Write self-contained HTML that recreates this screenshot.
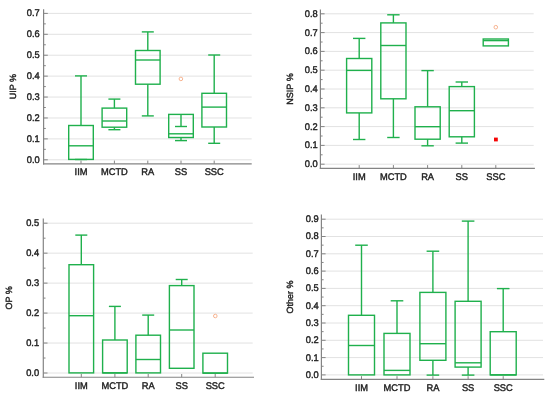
<!DOCTYPE html>
<html><head><meta charset="utf-8"><style>
html,body{margin:0;padding:0;background:#fff;}
body{width:550px;height:398px;overflow:hidden;}
svg{display:block;}
text{font-family:"Liberation Sans",Arial,sans-serif;font-size:9.3px;fill:#222222;stroke:#222222;stroke-width:0.4px;text-rendering:geometricPrecision;}
</style></head><body>
<svg width="550" height="398" viewBox="0 0 550 398">
<rect width="550" height="398" fill="#fff"/>
<line x1="43.6" y1="159.80" x2="251.7" y2="159.80" stroke="#e2e2e2" stroke-width="1"/>
<line x1="43.6" y1="138.89" x2="251.7" y2="138.89" stroke="#e2e2e2" stroke-width="1"/>
<line x1="43.6" y1="117.97" x2="251.7" y2="117.97" stroke="#e2e2e2" stroke-width="1"/>
<line x1="43.6" y1="97.06" x2="251.7" y2="97.06" stroke="#e2e2e2" stroke-width="1"/>
<line x1="43.6" y1="76.14" x2="251.7" y2="76.14" stroke="#e2e2e2" stroke-width="1"/>
<line x1="43.6" y1="55.23" x2="251.7" y2="55.23" stroke="#e2e2e2" stroke-width="1"/>
<line x1="43.6" y1="34.31" x2="251.7" y2="34.31" stroke="#e2e2e2" stroke-width="1"/>
<line x1="43.6" y1="13.40" x2="251.7" y2="13.40" stroke="#e2e2e2" stroke-width="1"/>
<line x1="81.0" y1="75.90" x2="81.0" y2="125.50" stroke="#1fb04c" stroke-width="1.4"/>
<line x1="75.0" y1="75.90" x2="87.0" y2="75.90" stroke="#1fb04c" stroke-width="1.4"/>
<line x1="81.0" y1="159.40" x2="81.0" y2="159.50" stroke="#1fb04c" stroke-width="1.4"/>
<line x1="75.0" y1="159.50" x2="87.0" y2="159.50" stroke="#1fb04c" stroke-width="1.4"/>
<rect x="68.7" y="125.50" width="24.6" height="33.90" fill="none" stroke="#1fb04c" stroke-width="1.4"/>
<line x1="68.7" y1="145.80" x2="93.3" y2="145.80" stroke="#1fb04c" stroke-width="1.4"/>
<line x1="114.4" y1="99.10" x2="114.4" y2="108.10" stroke="#1fb04c" stroke-width="1.4"/>
<line x1="108.4" y1="99.10" x2="120.4" y2="99.10" stroke="#1fb04c" stroke-width="1.4"/>
<line x1="114.4" y1="127.20" x2="114.4" y2="129.70" stroke="#1fb04c" stroke-width="1.4"/>
<line x1="108.4" y1="129.70" x2="120.4" y2="129.70" stroke="#1fb04c" stroke-width="1.4"/>
<rect x="102.1" y="108.10" width="24.6" height="19.10" fill="none" stroke="#1fb04c" stroke-width="1.4"/>
<line x1="102.1" y1="121.00" x2="126.7" y2="121.00" stroke="#1fb04c" stroke-width="1.4"/>
<line x1="147.8" y1="31.90" x2="147.8" y2="50.50" stroke="#1fb04c" stroke-width="1.4"/>
<line x1="141.8" y1="31.90" x2="153.8" y2="31.90" stroke="#1fb04c" stroke-width="1.4"/>
<line x1="147.8" y1="84.20" x2="147.8" y2="115.90" stroke="#1fb04c" stroke-width="1.4"/>
<line x1="141.8" y1="115.90" x2="153.8" y2="115.90" stroke="#1fb04c" stroke-width="1.4"/>
<rect x="135.5" y="50.50" width="24.6" height="33.70" fill="none" stroke="#1fb04c" stroke-width="1.4"/>
<line x1="135.5" y1="60.00" x2="160.1" y2="60.00" stroke="#1fb04c" stroke-width="1.4"/>
<line x1="181.0" y1="137.50" x2="181.0" y2="140.60" stroke="#1fb04c" stroke-width="1.4"/>
<line x1="175.0" y1="140.60" x2="187.0" y2="140.60" stroke="#1fb04c" stroke-width="1.4"/>
<rect x="168.7" y="114.40" width="24.6" height="23.10" fill="none" stroke="#1fb04c" stroke-width="1.4"/>
<line x1="168.7" y1="133.80" x2="193.3" y2="133.80" stroke="#1fb04c" stroke-width="1.4"/>
<line x1="214.2" y1="55.00" x2="214.2" y2="93.30" stroke="#1fb04c" stroke-width="1.4"/>
<line x1="208.2" y1="55.00" x2="220.2" y2="55.00" stroke="#1fb04c" stroke-width="1.4"/>
<line x1="214.2" y1="127.00" x2="214.2" y2="143.30" stroke="#1fb04c" stroke-width="1.4"/>
<line x1="208.2" y1="143.30" x2="220.2" y2="143.30" stroke="#1fb04c" stroke-width="1.4"/>
<rect x="201.9" y="93.30" width="24.6" height="33.70" fill="none" stroke="#1fb04c" stroke-width="1.4"/>
<line x1="201.9" y1="107.10" x2="226.5" y2="107.10" stroke="#1fb04c" stroke-width="1.4"/>
<line x1="181.0" y1="114.40" x2="181.0" y2="126.50" stroke="#1fb04c" stroke-width="1.4"/>
<line x1="175.0" y1="126.50" x2="187.0" y2="126.50" stroke="#1fb04c" stroke-width="1.4"/>
<circle cx="180.9" cy="78.9" r="1.8" fill="none" stroke="#f6ac84" stroke-width="0.9"/>
<line x1="43.6" y1="9.2" x2="43.6" y2="164.4" stroke="#848484" stroke-width="1.2"/>
<line x1="43.0" y1="163.8" x2="251.7" y2="163.8" stroke="#848484" stroke-width="1.15"/>
<line x1="43.6" y1="159.80" x2="47.8" y2="159.80" stroke="#848484" stroke-width="1"/>
<text transform="translate(39.7,162.70) scale(1,1.04)" text-anchor="end">0.0</text>
<line x1="43.6" y1="149.34" x2="45.8" y2="149.34" stroke="#848484" stroke-width="1"/>
<line x1="43.6" y1="138.89" x2="47.8" y2="138.89" stroke="#848484" stroke-width="1"/>
<text transform="translate(39.7,141.79) scale(1,1.04)" text-anchor="end">0.1</text>
<line x1="43.6" y1="128.43" x2="45.8" y2="128.43" stroke="#848484" stroke-width="1"/>
<line x1="43.6" y1="117.97" x2="47.8" y2="117.97" stroke="#848484" stroke-width="1"/>
<text transform="translate(39.7,120.87) scale(1,1.04)" text-anchor="end">0.2</text>
<line x1="43.6" y1="107.51" x2="45.8" y2="107.51" stroke="#848484" stroke-width="1"/>
<line x1="43.6" y1="97.06" x2="47.8" y2="97.06" stroke="#848484" stroke-width="1"/>
<text transform="translate(39.7,99.96) scale(1,1.04)" text-anchor="end">0.3</text>
<line x1="43.6" y1="86.60" x2="45.8" y2="86.60" stroke="#848484" stroke-width="1"/>
<line x1="43.6" y1="76.14" x2="47.8" y2="76.14" stroke="#848484" stroke-width="1"/>
<text transform="translate(39.7,79.04) scale(1,1.04)" text-anchor="end">0.4</text>
<line x1="43.6" y1="65.69" x2="45.8" y2="65.69" stroke="#848484" stroke-width="1"/>
<line x1="43.6" y1="55.23" x2="47.8" y2="55.23" stroke="#848484" stroke-width="1"/>
<text transform="translate(39.7,58.13) scale(1,1.04)" text-anchor="end">0.5</text>
<line x1="43.6" y1="44.77" x2="45.8" y2="44.77" stroke="#848484" stroke-width="1"/>
<line x1="43.6" y1="34.31" x2="47.8" y2="34.31" stroke="#848484" stroke-width="1"/>
<text transform="translate(39.7,37.21) scale(1,1.04)" text-anchor="end">0.6</text>
<line x1="43.6" y1="23.86" x2="45.8" y2="23.86" stroke="#848484" stroke-width="1"/>
<line x1="43.6" y1="13.40" x2="47.8" y2="13.40" stroke="#848484" stroke-width="1"/>
<text transform="translate(39.7,16.30) scale(1,1.04)" text-anchor="end">0.7</text>
<line x1="81.0" y1="163.8" x2="81.0" y2="160.6" stroke="#848484" stroke-width="1"/>
<text transform="translate(81.0,174.8) scale(1,1.04)" text-anchor="middle" style="font-size:9.3px">IIM</text>
<line x1="114.4" y1="163.8" x2="114.4" y2="160.6" stroke="#848484" stroke-width="1"/>
<text transform="translate(114.4,174.8) scale(1,1.04)" text-anchor="middle" style="font-size:9.3px">MCTD</text>
<line x1="147.8" y1="163.8" x2="147.8" y2="160.6" stroke="#848484" stroke-width="1"/>
<text transform="translate(147.8,174.8) scale(1,1.04)" text-anchor="middle" style="font-size:9.3px">RA</text>
<line x1="181.0" y1="163.8" x2="181.0" y2="160.6" stroke="#848484" stroke-width="1"/>
<text transform="translate(181.0,174.8) scale(1,1.04)" text-anchor="middle" style="font-size:9.3px">SS</text>
<line x1="214.2" y1="163.8" x2="214.2" y2="160.6" stroke="#848484" stroke-width="1"/>
<text transform="translate(214.2,174.8) scale(1,1.04)" text-anchor="middle" style="font-size:9.3px">SSC</text>
<text x="0" y="0" text-anchor="middle" style="font-size:9px" transform="translate(16.4,86.7) rotate(-90)">UIP %</text>
<line x1="320.4" y1="164.20" x2="533.7" y2="164.20" stroke="#e2e2e2" stroke-width="1"/>
<line x1="320.4" y1="145.40" x2="533.7" y2="145.40" stroke="#e2e2e2" stroke-width="1"/>
<line x1="320.4" y1="126.60" x2="533.7" y2="126.60" stroke="#e2e2e2" stroke-width="1"/>
<line x1="320.4" y1="107.80" x2="533.7" y2="107.80" stroke="#e2e2e2" stroke-width="1"/>
<line x1="320.4" y1="89.00" x2="533.7" y2="89.00" stroke="#e2e2e2" stroke-width="1"/>
<line x1="320.4" y1="70.20" x2="533.7" y2="70.20" stroke="#e2e2e2" stroke-width="1"/>
<line x1="320.4" y1="51.40" x2="533.7" y2="51.40" stroke="#e2e2e2" stroke-width="1"/>
<line x1="320.4" y1="32.60" x2="533.7" y2="32.60" stroke="#e2e2e2" stroke-width="1"/>
<line x1="320.4" y1="13.80" x2="533.7" y2="13.80" stroke="#e2e2e2" stroke-width="1"/>
<line x1="359.2" y1="38.40" x2="359.2" y2="58.50" stroke="#1fb04c" stroke-width="1.4"/>
<line x1="353.0" y1="38.40" x2="365.4" y2="38.40" stroke="#1fb04c" stroke-width="1.4"/>
<line x1="359.2" y1="112.90" x2="359.2" y2="139.50" stroke="#1fb04c" stroke-width="1.4"/>
<line x1="353.0" y1="139.50" x2="365.4" y2="139.50" stroke="#1fb04c" stroke-width="1.4"/>
<rect x="346.6" y="58.50" width="25.2" height="54.40" fill="none" stroke="#1fb04c" stroke-width="1.4"/>
<line x1="346.6" y1="70.40" x2="371.8" y2="70.40" stroke="#1fb04c" stroke-width="1.4"/>
<line x1="393.4" y1="14.80" x2="393.4" y2="22.90" stroke="#1fb04c" stroke-width="1.4"/>
<line x1="387.2" y1="14.80" x2="399.6" y2="14.80" stroke="#1fb04c" stroke-width="1.4"/>
<line x1="393.4" y1="98.80" x2="393.4" y2="137.50" stroke="#1fb04c" stroke-width="1.4"/>
<line x1="387.2" y1="137.50" x2="399.6" y2="137.50" stroke="#1fb04c" stroke-width="1.4"/>
<rect x="380.8" y="22.90" width="25.2" height="75.90" fill="none" stroke="#1fb04c" stroke-width="1.4"/>
<line x1="380.8" y1="45.50" x2="406.0" y2="45.50" stroke="#1fb04c" stroke-width="1.4"/>
<line x1="427.6" y1="70.60" x2="427.6" y2="106.80" stroke="#1fb04c" stroke-width="1.4"/>
<line x1="421.4" y1="70.60" x2="433.8" y2="70.60" stroke="#1fb04c" stroke-width="1.4"/>
<line x1="427.6" y1="139.20" x2="427.6" y2="145.80" stroke="#1fb04c" stroke-width="1.4"/>
<line x1="421.4" y1="145.80" x2="433.8" y2="145.80" stroke="#1fb04c" stroke-width="1.4"/>
<rect x="415.0" y="106.80" width="25.2" height="32.40" fill="none" stroke="#1fb04c" stroke-width="1.4"/>
<line x1="415.0" y1="126.70" x2="440.2" y2="126.70" stroke="#1fb04c" stroke-width="1.4"/>
<line x1="461.8" y1="82.00" x2="461.8" y2="86.60" stroke="#1fb04c" stroke-width="1.4"/>
<line x1="455.6" y1="82.00" x2="468.0" y2="82.00" stroke="#1fb04c" stroke-width="1.4"/>
<line x1="461.8" y1="136.80" x2="461.8" y2="143.10" stroke="#1fb04c" stroke-width="1.4"/>
<line x1="455.6" y1="143.10" x2="468.0" y2="143.10" stroke="#1fb04c" stroke-width="1.4"/>
<rect x="449.2" y="86.60" width="25.2" height="50.20" fill="none" stroke="#1fb04c" stroke-width="1.4"/>
<line x1="449.2" y1="110.70" x2="474.4" y2="110.70" stroke="#1fb04c" stroke-width="1.4"/>
<rect x="483.2" y="39.00" width="25.2" height="6.90" fill="none" stroke="#1fb04c" stroke-width="1.4"/>
<line x1="483.2" y1="40.60" x2="508.4" y2="40.60" stroke="#1fb04c" stroke-width="1.4"/>
<circle cx="495.8" cy="27.2" r="1.8" fill="none" stroke="#f6ac84" stroke-width="0.9"/>
<rect x="494.0" y="137.6" width="3.8" height="3.8" fill="#f50505"/>
<line x1="320.4" y1="9.4" x2="320.4" y2="168.9" stroke="#848484" stroke-width="1.2"/>
<line x1="319.8" y1="168.3" x2="534.9" y2="168.3" stroke="#848484" stroke-width="1.15"/>
<line x1="320.4" y1="164.20" x2="324.6" y2="164.20" stroke="#848484" stroke-width="1"/>
<text transform="translate(317.7,167.10) scale(1,1.04)" text-anchor="end">0.0</text>
<line x1="320.4" y1="154.80" x2="322.6" y2="154.80" stroke="#848484" stroke-width="1"/>
<line x1="320.4" y1="145.40" x2="324.6" y2="145.40" stroke="#848484" stroke-width="1"/>
<text transform="translate(317.7,148.30) scale(1,1.04)" text-anchor="end">0.1</text>
<line x1="320.4" y1="136.00" x2="322.6" y2="136.00" stroke="#848484" stroke-width="1"/>
<line x1="320.4" y1="126.60" x2="324.6" y2="126.60" stroke="#848484" stroke-width="1"/>
<text transform="translate(317.7,129.50) scale(1,1.04)" text-anchor="end">0.2</text>
<line x1="320.4" y1="117.20" x2="322.6" y2="117.20" stroke="#848484" stroke-width="1"/>
<line x1="320.4" y1="107.80" x2="324.6" y2="107.80" stroke="#848484" stroke-width="1"/>
<text transform="translate(317.7,110.70) scale(1,1.04)" text-anchor="end">0.3</text>
<line x1="320.4" y1="98.40" x2="322.6" y2="98.40" stroke="#848484" stroke-width="1"/>
<line x1="320.4" y1="89.00" x2="324.6" y2="89.00" stroke="#848484" stroke-width="1"/>
<text transform="translate(317.7,91.90) scale(1,1.04)" text-anchor="end">0.4</text>
<line x1="320.4" y1="79.60" x2="322.6" y2="79.60" stroke="#848484" stroke-width="1"/>
<line x1="320.4" y1="70.20" x2="324.6" y2="70.20" stroke="#848484" stroke-width="1"/>
<text transform="translate(317.7,73.10) scale(1,1.04)" text-anchor="end">0.5</text>
<line x1="320.4" y1="60.80" x2="322.6" y2="60.80" stroke="#848484" stroke-width="1"/>
<line x1="320.4" y1="51.40" x2="324.6" y2="51.40" stroke="#848484" stroke-width="1"/>
<text transform="translate(317.7,54.30) scale(1,1.04)" text-anchor="end">0.6</text>
<line x1="320.4" y1="42.00" x2="322.6" y2="42.00" stroke="#848484" stroke-width="1"/>
<line x1="320.4" y1="32.60" x2="324.6" y2="32.60" stroke="#848484" stroke-width="1"/>
<text transform="translate(317.7,35.50) scale(1,1.04)" text-anchor="end">0.7</text>
<line x1="320.4" y1="23.20" x2="322.6" y2="23.20" stroke="#848484" stroke-width="1"/>
<line x1="320.4" y1="13.80" x2="324.6" y2="13.80" stroke="#848484" stroke-width="1"/>
<text transform="translate(317.7,16.70) scale(1,1.04)" text-anchor="end">0.8</text>
<line x1="359.2" y1="168.3" x2="359.2" y2="165.1" stroke="#848484" stroke-width="1"/>
<text transform="translate(359.2,180.0) scale(1,1.04)" text-anchor="middle" style="font-size:9.3px">IIM</text>
<line x1="393.4" y1="168.3" x2="393.4" y2="165.1" stroke="#848484" stroke-width="1"/>
<text transform="translate(393.4,180.0) scale(1,1.04)" text-anchor="middle" style="font-size:9.3px">MCTD</text>
<line x1="427.6" y1="168.3" x2="427.6" y2="165.1" stroke="#848484" stroke-width="1"/>
<text transform="translate(427.6,180.0) scale(1,1.04)" text-anchor="middle" style="font-size:9.3px">RA</text>
<line x1="461.8" y1="168.3" x2="461.8" y2="165.1" stroke="#848484" stroke-width="1"/>
<text transform="translate(461.8,180.0) scale(1,1.04)" text-anchor="middle" style="font-size:9.3px">SS</text>
<line x1="495.8" y1="168.3" x2="495.8" y2="165.1" stroke="#848484" stroke-width="1"/>
<text transform="translate(495.8,180.0) scale(1,1.04)" text-anchor="middle" style="font-size:9.3px">SSC</text>
<text x="0" y="0" text-anchor="middle" style="font-size:9px" transform="translate(293.2,89.0) rotate(-90)">NSIP %</text>
<line x1="43.3" y1="373.00" x2="252.7" y2="373.00" stroke="#e2e2e2" stroke-width="1"/>
<line x1="43.3" y1="343.04" x2="252.7" y2="343.04" stroke="#e2e2e2" stroke-width="1"/>
<line x1="43.3" y1="313.08" x2="252.7" y2="313.08" stroke="#e2e2e2" stroke-width="1"/>
<line x1="43.3" y1="283.12" x2="252.7" y2="283.12" stroke="#e2e2e2" stroke-width="1"/>
<line x1="43.3" y1="253.16" x2="252.7" y2="253.16" stroke="#e2e2e2" stroke-width="1"/>
<line x1="43.3" y1="223.20" x2="252.7" y2="223.20" stroke="#e2e2e2" stroke-width="1"/>
<line x1="81.3" y1="235.10" x2="81.3" y2="264.70" stroke="#1fb04c" stroke-width="1.4"/>
<line x1="75.3" y1="235.10" x2="87.3" y2="235.10" stroke="#1fb04c" stroke-width="1.4"/>
<rect x="69.0" y="264.70" width="24.6" height="108.20" fill="none" stroke="#1fb04c" stroke-width="1.4"/>
<line x1="69.0" y1="315.70" x2="93.6" y2="315.70" stroke="#1fb04c" stroke-width="1.4"/>
<line x1="114.9" y1="306.40" x2="114.9" y2="340.00" stroke="#1fb04c" stroke-width="1.4"/>
<line x1="108.9" y1="306.40" x2="120.9" y2="306.40" stroke="#1fb04c" stroke-width="1.4"/>
<rect x="102.6" y="340.00" width="24.6" height="32.90" fill="none" stroke="#1fb04c" stroke-width="1.4"/>
<line x1="102.6" y1="372.90" x2="127.2" y2="372.90" stroke="#1fb04c" stroke-width="1.4"/>
<line x1="148.2" y1="315.10" x2="148.2" y2="335.20" stroke="#1fb04c" stroke-width="1.4"/>
<line x1="142.2" y1="315.10" x2="154.2" y2="315.10" stroke="#1fb04c" stroke-width="1.4"/>
<rect x="135.9" y="335.20" width="24.6" height="37.70" fill="none" stroke="#1fb04c" stroke-width="1.4"/>
<line x1="135.9" y1="359.50" x2="160.5" y2="359.50" stroke="#1fb04c" stroke-width="1.4"/>
<line x1="181.7" y1="279.50" x2="181.7" y2="285.60" stroke="#1fb04c" stroke-width="1.4"/>
<line x1="175.7" y1="279.50" x2="187.7" y2="279.50" stroke="#1fb04c" stroke-width="1.4"/>
<rect x="169.4" y="285.60" width="24.6" height="82.70" fill="none" stroke="#1fb04c" stroke-width="1.4"/>
<line x1="169.4" y1="330.00" x2="194.0" y2="330.00" stroke="#1fb04c" stroke-width="1.4"/>
<rect x="202.9" y="353.20" width="24.6" height="19.90" fill="none" stroke="#1fb04c" stroke-width="1.4"/>
<line x1="202.9" y1="373.10" x2="227.5" y2="373.10" stroke="#1fb04c" stroke-width="1.4"/>
<circle cx="215.3" cy="316.0" r="1.8" fill="none" stroke="#f6ac84" stroke-width="0.9"/>
<line x1="43.3" y1="218.6" x2="43.3" y2="377.8" stroke="#848484" stroke-width="1.2"/>
<line x1="42.7" y1="377.2" x2="254.0" y2="377.2" stroke="#848484" stroke-width="1.15"/>
<line x1="43.3" y1="373.00" x2="47.5" y2="373.00" stroke="#848484" stroke-width="1"/>
<text transform="translate(39.1,375.90) scale(1,1.04)" text-anchor="end">0.0</text>
<line x1="43.3" y1="358.02" x2="45.5" y2="358.02" stroke="#848484" stroke-width="1"/>
<line x1="43.3" y1="343.04" x2="47.5" y2="343.04" stroke="#848484" stroke-width="1"/>
<text transform="translate(39.1,345.94) scale(1,1.04)" text-anchor="end">0.1</text>
<line x1="43.3" y1="328.06" x2="45.5" y2="328.06" stroke="#848484" stroke-width="1"/>
<line x1="43.3" y1="313.08" x2="47.5" y2="313.08" stroke="#848484" stroke-width="1"/>
<text transform="translate(39.1,315.98) scale(1,1.04)" text-anchor="end">0.2</text>
<line x1="43.3" y1="298.10" x2="45.5" y2="298.10" stroke="#848484" stroke-width="1"/>
<line x1="43.3" y1="283.12" x2="47.5" y2="283.12" stroke="#848484" stroke-width="1"/>
<text transform="translate(39.1,286.02) scale(1,1.04)" text-anchor="end">0.3</text>
<line x1="43.3" y1="268.14" x2="45.5" y2="268.14" stroke="#848484" stroke-width="1"/>
<line x1="43.3" y1="253.16" x2="47.5" y2="253.16" stroke="#848484" stroke-width="1"/>
<text transform="translate(39.1,256.06) scale(1,1.04)" text-anchor="end">0.4</text>
<line x1="43.3" y1="238.18" x2="45.5" y2="238.18" stroke="#848484" stroke-width="1"/>
<line x1="43.3" y1="223.20" x2="47.5" y2="223.20" stroke="#848484" stroke-width="1"/>
<text transform="translate(39.1,226.10) scale(1,1.04)" text-anchor="end">0.5</text>
<line x1="81.3" y1="377.2" x2="81.3" y2="374.0" stroke="#848484" stroke-width="1"/>
<text transform="translate(81.3,389.0) scale(1,1.04)" text-anchor="middle" style="font-size:9.3px">IIM</text>
<line x1="114.9" y1="377.2" x2="114.9" y2="374.0" stroke="#848484" stroke-width="1"/>
<text transform="translate(114.9,389.0) scale(1,1.04)" text-anchor="middle" style="font-size:9.3px">MCTD</text>
<line x1="148.2" y1="377.2" x2="148.2" y2="374.0" stroke="#848484" stroke-width="1"/>
<text transform="translate(148.2,389.0) scale(1,1.04)" text-anchor="middle" style="font-size:9.3px">RA</text>
<line x1="181.7" y1="377.2" x2="181.7" y2="374.0" stroke="#848484" stroke-width="1"/>
<text transform="translate(181.7,389.0) scale(1,1.04)" text-anchor="middle" style="font-size:9.3px">SS</text>
<line x1="215.2" y1="377.2" x2="215.2" y2="374.0" stroke="#848484" stroke-width="1"/>
<text transform="translate(215.2,389.0) scale(1,1.04)" text-anchor="middle" style="font-size:9.3px">SSC</text>
<text x="0" y="0" text-anchor="middle" style="font-size:9px" transform="translate(12.2,297.9) rotate(-90)">OP %</text>
<line x1="321.4" y1="374.90" x2="543.0" y2="374.90" stroke="#e2e2e2" stroke-width="1"/>
<line x1="321.4" y1="357.60" x2="543.0" y2="357.60" stroke="#e2e2e2" stroke-width="1"/>
<line x1="321.4" y1="340.30" x2="543.0" y2="340.30" stroke="#e2e2e2" stroke-width="1"/>
<line x1="321.4" y1="323.00" x2="543.0" y2="323.00" stroke="#e2e2e2" stroke-width="1"/>
<line x1="321.4" y1="305.70" x2="543.0" y2="305.70" stroke="#e2e2e2" stroke-width="1"/>
<line x1="321.4" y1="288.40" x2="543.0" y2="288.40" stroke="#e2e2e2" stroke-width="1"/>
<line x1="321.4" y1="271.10" x2="543.0" y2="271.10" stroke="#e2e2e2" stroke-width="1"/>
<line x1="321.4" y1="253.80" x2="543.0" y2="253.80" stroke="#e2e2e2" stroke-width="1"/>
<line x1="321.4" y1="236.50" x2="543.0" y2="236.50" stroke="#e2e2e2" stroke-width="1"/>
<line x1="321.4" y1="219.20" x2="543.0" y2="219.20" stroke="#e2e2e2" stroke-width="1"/>
<line x1="361.5" y1="245.20" x2="361.5" y2="315.30" stroke="#1fb04c" stroke-width="1.4"/>
<line x1="355.2" y1="245.20" x2="367.8" y2="245.20" stroke="#1fb04c" stroke-width="1.4"/>
<rect x="348.5" y="315.30" width="26.0" height="59.60" fill="none" stroke="#1fb04c" stroke-width="1.4"/>
<line x1="348.5" y1="345.50" x2="374.5" y2="345.50" stroke="#1fb04c" stroke-width="1.4"/>
<line x1="397.0" y1="300.80" x2="397.0" y2="333.40" stroke="#1fb04c" stroke-width="1.4"/>
<line x1="390.7" y1="300.80" x2="403.3" y2="300.80" stroke="#1fb04c" stroke-width="1.4"/>
<rect x="384.0" y="333.40" width="26.0" height="41.50" fill="none" stroke="#1fb04c" stroke-width="1.4"/>
<line x1="384.0" y1="370.40" x2="410.0" y2="370.40" stroke="#1fb04c" stroke-width="1.4"/>
<line x1="432.9" y1="251.20" x2="432.9" y2="292.40" stroke="#1fb04c" stroke-width="1.4"/>
<line x1="426.6" y1="251.20" x2="439.2" y2="251.20" stroke="#1fb04c" stroke-width="1.4"/>
<line x1="432.9" y1="360.30" x2="432.9" y2="375.10" stroke="#1fb04c" stroke-width="1.4"/>
<line x1="426.6" y1="375.10" x2="439.2" y2="375.10" stroke="#1fb04c" stroke-width="1.4"/>
<rect x="419.9" y="292.40" width="26.0" height="67.90" fill="none" stroke="#1fb04c" stroke-width="1.4"/>
<line x1="419.9" y1="343.70" x2="445.9" y2="343.70" stroke="#1fb04c" stroke-width="1.4"/>
<line x1="468.1" y1="221.10" x2="468.1" y2="301.30" stroke="#1fb04c" stroke-width="1.4"/>
<line x1="461.8" y1="221.10" x2="474.4" y2="221.10" stroke="#1fb04c" stroke-width="1.4"/>
<line x1="468.1" y1="367.10" x2="468.1" y2="375.10" stroke="#1fb04c" stroke-width="1.4"/>
<line x1="461.8" y1="375.10" x2="474.4" y2="375.10" stroke="#1fb04c" stroke-width="1.4"/>
<rect x="455.1" y="301.30" width="26.0" height="65.80" fill="none" stroke="#1fb04c" stroke-width="1.4"/>
<line x1="455.1" y1="362.80" x2="481.1" y2="362.80" stroke="#1fb04c" stroke-width="1.4"/>
<line x1="503.2" y1="288.60" x2="503.2" y2="331.70" stroke="#1fb04c" stroke-width="1.4"/>
<line x1="496.9" y1="288.60" x2="509.5" y2="288.60" stroke="#1fb04c" stroke-width="1.4"/>
<rect x="490.2" y="331.70" width="26.0" height="43.20" fill="none" stroke="#1fb04c" stroke-width="1.4"/>
<line x1="490.2" y1="374.90" x2="516.2" y2="374.90" stroke="#1fb04c" stroke-width="1.4"/>
<line x1="321.4" y1="214.4" x2="321.4" y2="380.0" stroke="#848484" stroke-width="1.2"/>
<line x1="320.8" y1="379.4" x2="544.3" y2="379.4" stroke="#848484" stroke-width="1.15"/>
<line x1="321.4" y1="374.90" x2="325.6" y2="374.90" stroke="#848484" stroke-width="1"/>
<text transform="translate(318.7,377.80) scale(1,1.04)" text-anchor="end">0.0</text>
<line x1="321.4" y1="366.25" x2="323.6" y2="366.25" stroke="#848484" stroke-width="1"/>
<line x1="321.4" y1="357.60" x2="325.6" y2="357.60" stroke="#848484" stroke-width="1"/>
<text transform="translate(318.7,360.50) scale(1,1.04)" text-anchor="end">0.1</text>
<line x1="321.4" y1="348.95" x2="323.6" y2="348.95" stroke="#848484" stroke-width="1"/>
<line x1="321.4" y1="340.30" x2="325.6" y2="340.30" stroke="#848484" stroke-width="1"/>
<text transform="translate(318.7,343.20) scale(1,1.04)" text-anchor="end">0.2</text>
<line x1="321.4" y1="331.65" x2="323.6" y2="331.65" stroke="#848484" stroke-width="1"/>
<line x1="321.4" y1="323.00" x2="325.6" y2="323.00" stroke="#848484" stroke-width="1"/>
<text transform="translate(318.7,325.90) scale(1,1.04)" text-anchor="end">0.3</text>
<line x1="321.4" y1="314.35" x2="323.6" y2="314.35" stroke="#848484" stroke-width="1"/>
<line x1="321.4" y1="305.70" x2="325.6" y2="305.70" stroke="#848484" stroke-width="1"/>
<text transform="translate(318.7,308.60) scale(1,1.04)" text-anchor="end">0.4</text>
<line x1="321.4" y1="297.05" x2="323.6" y2="297.05" stroke="#848484" stroke-width="1"/>
<line x1="321.4" y1="288.40" x2="325.6" y2="288.40" stroke="#848484" stroke-width="1"/>
<text transform="translate(318.7,291.30) scale(1,1.04)" text-anchor="end">0.5</text>
<line x1="321.4" y1="279.75" x2="323.6" y2="279.75" stroke="#848484" stroke-width="1"/>
<line x1="321.4" y1="271.10" x2="325.6" y2="271.10" stroke="#848484" stroke-width="1"/>
<text transform="translate(318.7,274.00) scale(1,1.04)" text-anchor="end">0.6</text>
<line x1="321.4" y1="262.45" x2="323.6" y2="262.45" stroke="#848484" stroke-width="1"/>
<line x1="321.4" y1="253.80" x2="325.6" y2="253.80" stroke="#848484" stroke-width="1"/>
<text transform="translate(318.7,256.70) scale(1,1.04)" text-anchor="end">0.7</text>
<line x1="321.4" y1="245.15" x2="323.6" y2="245.15" stroke="#848484" stroke-width="1"/>
<line x1="321.4" y1="236.50" x2="325.6" y2="236.50" stroke="#848484" stroke-width="1"/>
<text transform="translate(318.7,239.40) scale(1,1.04)" text-anchor="end">0.8</text>
<line x1="321.4" y1="227.85" x2="323.6" y2="227.85" stroke="#848484" stroke-width="1"/>
<line x1="321.4" y1="219.20" x2="325.6" y2="219.20" stroke="#848484" stroke-width="1"/>
<text transform="translate(318.7,222.10) scale(1,1.04)" text-anchor="end">0.9</text>
<line x1="361.5" y1="379.4" x2="361.5" y2="376.2" stroke="#848484" stroke-width="1"/>
<text transform="translate(361.5,391.0) scale(1,1.04)" text-anchor="middle" style="font-size:9.3px">IIM</text>
<line x1="397.0" y1="379.4" x2="397.0" y2="376.2" stroke="#848484" stroke-width="1"/>
<text transform="translate(397.0,391.0) scale(1,1.04)" text-anchor="middle" style="font-size:9.3px">MCTD</text>
<line x1="432.9" y1="379.4" x2="432.9" y2="376.2" stroke="#848484" stroke-width="1"/>
<text transform="translate(432.9,391.0) scale(1,1.04)" text-anchor="middle" style="font-size:9.3px">RA</text>
<line x1="468.1" y1="379.4" x2="468.1" y2="376.2" stroke="#848484" stroke-width="1"/>
<text transform="translate(468.1,391.0) scale(1,1.04)" text-anchor="middle" style="font-size:9.3px">SS</text>
<line x1="503.2" y1="379.4" x2="503.2" y2="376.2" stroke="#848484" stroke-width="1"/>
<text transform="translate(503.2,391.0) scale(1,1.04)" text-anchor="middle" style="font-size:9.3px">SSC</text>
<text x="0" y="0" text-anchor="middle" style="font-size:9px" transform="translate(292.8,297.0) rotate(-90)">Other %</text>
</svg>
</body></html>
